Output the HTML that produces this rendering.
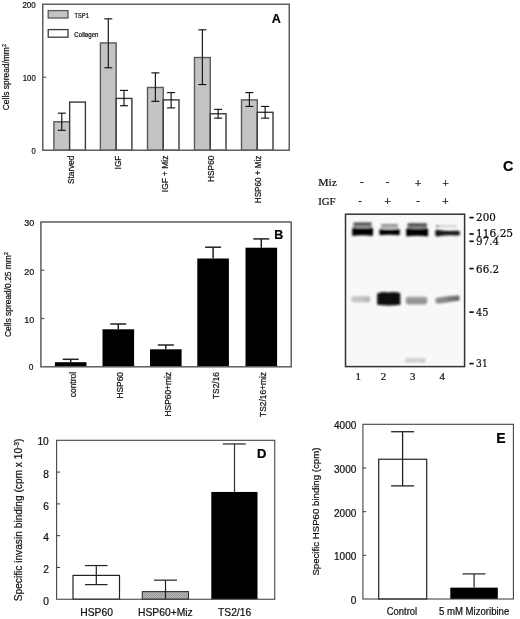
<!DOCTYPE html>
<html><head><meta charset="utf-8"><title>Figure</title>
<style>
html,body{margin:0;padding:0;background:#fff;}
body{width:520px;height:619px;overflow:hidden;}
svg{display:block;}
text{stroke:#111;stroke-width:0.22px;}
</style></head>
<body>
<svg width="520" height="619" viewBox="0 0 520 619">
<rect width="520" height="619" fill="#fff"/>
<rect x="53.9" y="121.78" width="15.75" height="28.47" fill="#c4c4c4" stroke="#5a5a5a" stroke-width="1.4"/>
<rect x="69.65" y="102.07" width="15.75" height="48.18000000000001" fill="#fff" stroke="#3a3a3a" stroke-width="1.4"/>
<line x1="61.775" y1="113.166" x2="61.775" y2="130.321" stroke="#111" stroke-width="1.15"/>
<line x1="57.775" y1="113.166" x2="65.775" y2="113.166" stroke="#111" stroke-width="1.15"/>
<line x1="57.775" y1="130.321" x2="65.775" y2="130.321" stroke="#111" stroke-width="1.15"/>
<rect x="100.4" y="42.94" width="15.75" height="107.31" fill="#c4c4c4" stroke="#5a5a5a" stroke-width="1.4"/>
<rect x="116.15" y="98.42" width="15.75" height="51.83" fill="#fff" stroke="#3a3a3a" stroke-width="1.4"/>
<line x1="108.275" y1="18.849999999999994" x2="108.275" y2="67.76" stroke="#111" stroke-width="1.15"/>
<line x1="104.275" y1="18.849999999999994" x2="112.275" y2="18.849999999999994" stroke="#111" stroke-width="1.15"/>
<line x1="104.275" y1="67.76" x2="112.275" y2="67.76" stroke="#111" stroke-width="1.15"/>
<line x1="124.025" y1="90.39" x2="124.025" y2="105.72" stroke="#111" stroke-width="1.15"/>
<line x1="120.025" y1="90.39" x2="128.025" y2="90.39" stroke="#111" stroke-width="1.15"/>
<line x1="120.025" y1="105.72" x2="128.025" y2="105.72" stroke="#111" stroke-width="1.15"/>
<rect x="147.5" y="87.47" width="15.75" height="62.78" fill="#c4c4c4" stroke="#5a5a5a" stroke-width="1.4"/>
<rect x="163.25" y="99.88" width="15.75" height="50.370000000000005" fill="#fff" stroke="#3a3a3a" stroke-width="1.4"/>
<line x1="155.375" y1="72.87" x2="155.375" y2="101.34" stroke="#111" stroke-width="1.15"/>
<line x1="151.375" y1="72.87" x2="159.375" y2="72.87" stroke="#111" stroke-width="1.15"/>
<line x1="151.375" y1="101.34" x2="159.375" y2="101.34" stroke="#111" stroke-width="1.15"/>
<line x1="171.125" y1="92.58" x2="171.125" y2="107.91" stroke="#111" stroke-width="1.15"/>
<line x1="167.125" y1="92.58" x2="175.125" y2="92.58" stroke="#111" stroke-width="1.15"/>
<line x1="167.125" y1="107.91" x2="175.125" y2="107.91" stroke="#111" stroke-width="1.15"/>
<rect x="194.5" y="57.540000000000006" width="15.75" height="92.71" fill="#c4c4c4" stroke="#5a5a5a" stroke-width="1.4"/>
<rect x="210.25" y="113.75" width="15.75" height="36.5" fill="#fff" stroke="#3a3a3a" stroke-width="1.4"/>
<line x1="202.375" y1="29.799999999999997" x2="202.375" y2="84.55" stroke="#111" stroke-width="1.15"/>
<line x1="198.375" y1="29.799999999999997" x2="206.375" y2="29.799999999999997" stroke="#111" stroke-width="1.15"/>
<line x1="198.375" y1="84.55" x2="206.375" y2="84.55" stroke="#111" stroke-width="1.15"/>
<line x1="218.125" y1="109.37" x2="218.125" y2="118.13" stroke="#111" stroke-width="1.15"/>
<line x1="214.125" y1="109.37" x2="222.125" y2="109.37" stroke="#111" stroke-width="1.15"/>
<line x1="214.125" y1="118.13" x2="222.125" y2="118.13" stroke="#111" stroke-width="1.15"/>
<rect x="241.5" y="99.88" width="15.75" height="50.370000000000005" fill="#c4c4c4" stroke="#5a5a5a" stroke-width="1.4"/>
<rect x="257.25" y="112.28999999999999" width="15.75" height="37.96000000000001" fill="#fff" stroke="#3a3a3a" stroke-width="1.4"/>
<line x1="249.375" y1="92.58" x2="249.375" y2="106.45" stroke="#111" stroke-width="1.15"/>
<line x1="245.375" y1="92.58" x2="253.375" y2="92.58" stroke="#111" stroke-width="1.15"/>
<line x1="245.375" y1="106.45" x2="253.375" y2="106.45" stroke="#111" stroke-width="1.15"/>
<line x1="265.125" y1="106.45" x2="265.125" y2="118.13" stroke="#111" stroke-width="1.15"/>
<line x1="261.125" y1="106.45" x2="269.125" y2="106.45" stroke="#111" stroke-width="1.15"/>
<line x1="261.125" y1="118.13" x2="269.125" y2="118.13" stroke="#111" stroke-width="1.15"/>
<rect x="42.75" y="4.25" width="246.5" height="146.0" fill="none" stroke="#5e5e5e" stroke-width="1.5"/>
<line x1="42.75" y1="77.25" x2="46.25" y2="77.25" stroke="#5e5e5e" stroke-width="1.2"/>
<rect x="48.2" y="10.6" width="19.8" height="7.4" fill="#c4c4c4" stroke="#5a5a5a" stroke-width="1.3"/>
<rect x="48.2" y="29.6" width="19.8" height="7.6" fill="#fff" stroke="#3a3a3a" stroke-width="1.3"/>
<text x="74.6" y="17.8" font-size="6.6" text-anchor="start" font-family="'Liberation Sans', Arial, Helvetica, sans-serif" fill="#111" textLength="14.2" lengthAdjust="spacingAndGlyphs">TSP1</text>
<text x="74.3" y="36.9" font-size="6.6" text-anchor="start" font-family="'Liberation Sans', Arial, Helvetica, sans-serif" fill="#111" textLength="24.2" lengthAdjust="spacingAndGlyphs">Collagen</text>
<text x="35.8" y="8.25" font-size="9.7" text-anchor="end" font-family="'Liberation Sans', Arial, Helvetica, sans-serif" fill="#111" textLength="13.4" lengthAdjust="spacingAndGlyphs">200</text>
<text x="35.8" y="81.25" font-size="9.7" text-anchor="end" font-family="'Liberation Sans', Arial, Helvetica, sans-serif" fill="#111" textLength="13.1" lengthAdjust="spacingAndGlyphs">100</text>
<text x="35.8" y="154.25" font-size="9.7" text-anchor="end" font-family="'Liberation Sans', Arial, Helvetica, sans-serif" fill="#111" textLength="4.2" lengthAdjust="spacingAndGlyphs">0</text>
<text x="9.0" y="77.2" font-size="9.0" text-anchor="middle" font-family="'Liberation Sans', Arial, Helvetica, sans-serif" fill="#111" textLength="66" lengthAdjust="spacingAndGlyphs" transform="rotate(-90 9.0 77.2)">Cells spread/mm<tspan font-size="5.6" dy="-3.2">2</tspan></text>
<text x="280.8" y="23.2" font-size="12.6" text-anchor="end" font-family="'Liberation Sans', Arial, Helvetica, sans-serif" fill="#000" font-weight="bold">A</text>
<text x="74.2" y="155.6" font-size="8.6" text-anchor="end" font-family="'Liberation Sans', Arial, Helvetica, sans-serif" fill="#111" textLength="28.3" lengthAdjust="spacingAndGlyphs" transform="rotate(-90 74.2 155.6)">Starved</text>
<text x="120.8" y="155.6" font-size="8.6" text-anchor="end" font-family="'Liberation Sans', Arial, Helvetica, sans-serif" fill="#111" textLength="13.8" lengthAdjust="spacingAndGlyphs" transform="rotate(-90 120.8 155.6)">IGF</text>
<text x="168.2" y="155.6" font-size="8.6" text-anchor="end" font-family="'Liberation Sans', Arial, Helvetica, sans-serif" fill="#111" textLength="36.6" lengthAdjust="spacingAndGlyphs" transform="rotate(-90 168.2 155.6)">IGF + Miz</text>
<text x="214.4" y="155.6" font-size="8.6" text-anchor="end" font-family="'Liberation Sans', Arial, Helvetica, sans-serif" fill="#111" textLength="26.4" lengthAdjust="spacingAndGlyphs" transform="rotate(-90 214.4 155.6)">HSP60</text>
<text x="261.1" y="155.6" font-size="8.6" text-anchor="end" font-family="'Liberation Sans', Arial, Helvetica, sans-serif" fill="#111" textLength="47.6" lengthAdjust="spacingAndGlyphs" transform="rotate(-90 261.1 155.6)">HSP60 + Miz</text>
<rect x="54.9" y="362.2" width="31.6" height="4.60" fill="#000"/>
<line x1="70.7" y1="359.3" x2="70.7" y2="362.2" stroke="#111" stroke-width="1.4"/>
<line x1="62.7" y1="359.3" x2="78.7" y2="359.3" stroke="#222" stroke-width="1.5"/>
<rect x="102.5" y="329.3" width="31.6" height="37.50" fill="#000"/>
<line x1="118.3" y1="324.0" x2="118.3" y2="329.3" stroke="#111" stroke-width="1.4"/>
<line x1="110.3" y1="324.0" x2="126.3" y2="324.0" stroke="#222" stroke-width="1.5"/>
<rect x="150.0" y="349.3" width="31.6" height="17.50" fill="#000"/>
<line x1="165.8" y1="345.0" x2="165.8" y2="349.3" stroke="#111" stroke-width="1.4"/>
<line x1="157.8" y1="345.0" x2="173.8" y2="345.0" stroke="#222" stroke-width="1.5"/>
<rect x="197.3" y="258.5" width="31.6" height="108.30" fill="#000"/>
<line x1="213.10000000000002" y1="247.2" x2="213.10000000000002" y2="258.5" stroke="#111" stroke-width="1.4"/>
<line x1="205.10000000000002" y1="247.2" x2="221.10000000000002" y2="247.2" stroke="#222" stroke-width="1.5"/>
<rect x="245.5" y="247.7" width="31.6" height="119.10" fill="#000"/>
<line x1="261.3" y1="238.9" x2="261.3" y2="247.7" stroke="#111" stroke-width="1.4"/>
<line x1="253.3" y1="238.9" x2="269.3" y2="238.9" stroke="#222" stroke-width="1.5"/>
<rect x="40.9" y="222.0" width="250.29999999999998" height="144.8" fill="none" stroke="#5e5e5e" stroke-width="1.5"/>
<line x1="40.9" y1="318.53333333333336" x2="44.4" y2="318.53333333333336" stroke="#5e5e5e" stroke-width="1.2"/>
<line x1="40.9" y1="270.26666666666665" x2="44.4" y2="270.26666666666665" stroke="#5e5e5e" stroke-width="1.2"/>
<text x="33.5" y="370.40000000000003" font-size="8.4" text-anchor="end" font-family="'Liberation Sans', Arial, Helvetica, sans-serif" fill="#111">0</text>
<text x="34.2" y="322.93333333333334" font-size="9" text-anchor="end" font-family="'Liberation Sans', Arial, Helvetica, sans-serif" fill="#111">10</text>
<text x="34.2" y="274.66666666666663" font-size="9" text-anchor="end" font-family="'Liberation Sans', Arial, Helvetica, sans-serif" fill="#111">20</text>
<text x="34.2" y="226.4" font-size="9" text-anchor="end" font-family="'Liberation Sans', Arial, Helvetica, sans-serif" fill="#111">30</text>
<text x="11.2" y="294.6" font-size="8.6" text-anchor="middle" font-family="'Liberation Sans', Arial, Helvetica, sans-serif" fill="#111" textLength="85" lengthAdjust="spacingAndGlyphs" transform="rotate(-90 11.2 294.6)">Cells spread/0.25 mm<tspan font-size="5.5" dy="-3">2</tspan></text>
<text x="283.3" y="239.3" font-size="12.4" text-anchor="end" font-family="'Liberation Sans', Arial, Helvetica, sans-serif" fill="#000" font-weight="bold">B</text>
<text x="75.6" y="372" font-size="8.4" text-anchor="end" font-family="'Liberation Sans', Arial, Helvetica, sans-serif" fill="#111" transform="rotate(-90 75.6 372)">control</text>
<text x="123.4" y="372" font-size="8.4" text-anchor="end" font-family="'Liberation Sans', Arial, Helvetica, sans-serif" fill="#111" transform="rotate(-90 123.4 372)">HSP60</text>
<text x="170.8" y="372" font-size="8.4" text-anchor="end" font-family="'Liberation Sans', Arial, Helvetica, sans-serif" fill="#111" transform="rotate(-90 170.8 372)">HSP60+miz</text>
<text x="218.5" y="372" font-size="8.4" text-anchor="end" font-family="'Liberation Sans', Arial, Helvetica, sans-serif" fill="#111" transform="rotate(-90 218.5 372)">TS2/16</text>
<text x="266.2" y="372" font-size="8.4" text-anchor="end" font-family="'Liberation Sans', Arial, Helvetica, sans-serif" fill="#111" transform="rotate(-90 266.2 372)">TS2/16+miz</text>
<defs>
<filter id="bl1" x="-20%" y="-100%" width="140%" height="300%"><feGaussianBlur stdDeviation="0.9 0.75"/></filter>
<filter id="bl2" x="-20%" y="-100%" width="140%" height="300%"><feGaussianBlur stdDeviation="1.1 1.0"/></filter>
<filter id="bl3" x="-20%" y="-50%" width="140%" height="200%"><feGaussianBlur stdDeviation="1.15 1.0"/></filter>
<linearGradient id="g1" x1="0" x2="1" y1="0" y2="0"><stop offset="0" stop-color="#c8c8c8"/><stop offset="0.6" stop-color="#c0c0c0"/><stop offset="1" stop-color="#b0b0b0"/></linearGradient>
<linearGradient id="g4" x1="0" x2="1" y1="0" y2="0"><stop offset="0" stop-color="#909090"/><stop offset="0.5" stop-color="#808080"/><stop offset="1" stop-color="#606060"/></linearGradient>
<linearGradient id="g3" x1="0" x2="0" y1="0" y2="1"><stop offset="0" stop-color="#b0b0b0"/><stop offset="0.5" stop-color="#909090"/><stop offset="1" stop-color="#989898"/></linearGradient>
<linearGradient id="gb" x1="0" x2="1" y1="0" y2="0"><stop offset="0" stop-color="#b8b8b8"/><stop offset="0.15" stop-color="#cfcfcf"/><stop offset="0.85" stop-color="#d0d0d0"/><stop offset="1" stop-color="#a8a8a8"/></linearGradient>
</defs>
<rect x="345.6" y="214.2" width="119" height="152.4" fill="#f8f8f8"/>
<g filter="url(#bl3)">
<rect x="353.4" y="225" width="18.2" height="3.8" fill="#a0a0a0"/>
<rect x="353.4" y="222.4" width="18.2" height="3.2" rx="1" fill="#444"/>
<path d="M352.2 228.3 Q352.6 226.8 356 227.9 Q362 228.5 369 227.9 Q372.8 226.8 373 228.5 L373 235 Q372.8 236.6 369 235.6 Q362 235 356 235.6 Q352.6 236.6 352.2 235 Z" fill="#000"/>
<rect x="381" y="226" width="17" height="3.2" fill="#c4c4c4"/>
<rect x="381" y="224.1" width="17" height="2.5" rx="1" fill="#8c8c8c"/>
<path d="M379.4 229.4 Q379.8 228.2 383 229.2 Q389.5 229.9 396 229.2 Q399.5 228.2 399.8 229.6 L399.8 234.6 Q399.5 235.9 396 235 Q389.5 234.4 383 235 Q379.8 235.9 379.4 234.6 Z" fill="#000"/>
<rect x="407.6" y="225.8" width="19.4" height="3.6" fill="#a0a0a0"/>
<rect x="407.6" y="223.2" width="19.4" height="3.2" rx="1" fill="#444"/>
<path d="M406.2 228.9 Q406.5 227.4 410 228.5 Q417 229.1 424 228.5 Q428 227.4 428.1 229 L428.1 235.6 Q428 237.1 424 236.1 Q417 235.6 410 236.1 Q406.5 237.1 406.2 235.6 Z" fill="#000"/>
<rect x="436.2" y="225.4" width="21" height="1.5" rx="0.7" fill="#c4c4c4"/>
<rect x="436" y="225" width="2.8" height="2.2" rx="1" fill="#808080"/>
<path d="M435.3 230.8 Q435.5 229.2 438.5 229.9 Q444 230.8 450 230.9 L456.5 230.8 Q460.1 230.3 460.1 233.2 Q460.1 236 456.5 235.4 L450 235.3 Q444 235.3 438.5 236.2 Q435.5 236.9 435.3 235 Z" fill="#141414"/>
</g>
<g filter="url(#bl3)">
<rect x="351.2" y="296.3" width="19" height="6" rx="2.5" fill="url(#g1)"/>
<path d="M377.2 293.4 Q383 291.4 388.5 292.4 Q394.5 291.4 400.2 293 L400.4 304.8 Q389 306.4 377.2 304.8 Z" fill="#080808"/>
<rect x="405.8" y="296.6" width="21.4" height="8" rx="3" fill="url(#g3)"/>
<path d="M435.6 298.6 Q436 297.4 440 297.2 Q450 295.6 458.8 295.6 Q460.2 298 459.4 300.6 Q450 302 440 303.4 Q436 304 435.6 302.6 Z" fill="url(#g4)"/>
</g>
<g filter="url(#bl2)">
<rect x="405.4" y="358.2" width="19.8" height="4.4" rx="1.5" fill="url(#gb)"/>
</g>
<rect x="345.5" y="214.2" width="119.1" height="152.4" fill="none" stroke="#333" stroke-width="1.5"/>
<text x="318.2" y="186.1" font-size="11.4" text-anchor="start" font-family="'Liberation Serif', 'DejaVu Serif', serif" fill="#111" textLength="18.6" lengthAdjust="spacingAndGlyphs">Miz</text>
<text x="318.2" y="204.5" font-size="11.4" text-anchor="start" font-family="'Liberation Serif', 'DejaVu Serif', serif" fill="#111" textLength="17.4" lengthAdjust="spacingAndGlyphs">IGF</text>
<text x="361.8" y="186" font-size="10.8" text-anchor="middle" font-family="'DejaVu Serif', 'Liberation Serif', serif" fill="#111">-</text>
<text x="387.5" y="186" font-size="10.8" text-anchor="middle" font-family="'DejaVu Serif', 'Liberation Serif', serif" fill="#111">-</text>
<text x="360.2" y="205" font-size="10.8" text-anchor="middle" font-family="'DejaVu Serif', 'Liberation Serif', serif" fill="#111">-</text>
<text x="418" y="205" font-size="10.8" text-anchor="middle" font-family="'DejaVu Serif', 'Liberation Serif', serif" fill="#111">-</text>
<text x="418" y="186.2" font-size="8.6" text-anchor="middle" font-family="'DejaVu Serif', 'Liberation Serif', serif" fill="#111">+</text>
<text x="445.7" y="186.2" font-size="8.6" text-anchor="middle" font-family="'DejaVu Serif', 'Liberation Serif', serif" fill="#111">+</text>
<text x="387.5" y="204.4" font-size="8.6" text-anchor="middle" font-family="'DejaVu Serif', 'Liberation Serif', serif" fill="#111">+</text>
<text x="445.3" y="204.4" font-size="8.6" text-anchor="middle" font-family="'DejaVu Serif', 'Liberation Serif', serif" fill="#111">+</text>
<line x1="469.4" y1="217.6" x2="473.7" y2="217.6" stroke="#111" stroke-width="1.7"/>
<text x="476.1" y="221.1" font-size="10.4" text-anchor="start" font-family="'DejaVu Serif', 'Liberation Serif', serif" fill="#111" textLength="19.7" lengthAdjust="spacingAndGlyphs">200</text>
<line x1="469.4" y1="234.0" x2="473.7" y2="234.0" stroke="#111" stroke-width="1.7"/>
<text x="476.1" y="236.5" font-size="10.4" text-anchor="start" font-family="'DejaVu Serif', 'Liberation Serif', serif" fill="#111" textLength="37.0" lengthAdjust="spacingAndGlyphs">116.25</text>
<line x1="469.4" y1="241.3" x2="473.7" y2="241.3" stroke="#111" stroke-width="1.7"/>
<text x="476.1" y="245.4" font-size="10.4" text-anchor="start" font-family="'DejaVu Serif', 'Liberation Serif', serif" fill="#111" textLength="23.1" lengthAdjust="spacingAndGlyphs">97.4</text>
<line x1="469.4" y1="268.6" x2="473.7" y2="268.6" stroke="#111" stroke-width="1.7"/>
<text x="476.1" y="272.7" font-size="10.4" text-anchor="start" font-family="'DejaVu Serif', 'Liberation Serif', serif" fill="#111" textLength="23.1" lengthAdjust="spacingAndGlyphs">66.2</text>
<line x1="469.4" y1="312.1" x2="473.7" y2="312.1" stroke="#111" stroke-width="1.7"/>
<text x="476.1" y="316.1" font-size="10.4" text-anchor="start" font-family="'DejaVu Serif', 'Liberation Serif', serif" fill="#111" textLength="12.5" lengthAdjust="spacingAndGlyphs">45</text>
<line x1="469.4" y1="363.6" x2="473.7" y2="363.6" stroke="#111" stroke-width="1.7"/>
<text x="476.1" y="367.3" font-size="10.4" text-anchor="start" font-family="'DejaVu Serif', 'Liberation Serif', serif" fill="#111" textLength="11.6" lengthAdjust="spacingAndGlyphs">31</text>
<text x="358.1" y="380.2" font-size="10.8" text-anchor="middle" font-family="'Liberation Serif', 'DejaVu Serif', serif" fill="#111">1</text>
<text x="383.4" y="380.2" font-size="10.8" text-anchor="middle" font-family="'Liberation Serif', 'DejaVu Serif', serif" fill="#111">2</text>
<text x="412.7" y="380.2" font-size="10.8" text-anchor="middle" font-family="'Liberation Serif', 'DejaVu Serif', serif" fill="#111">3</text>
<text x="442.3" y="380.2" font-size="10.8" text-anchor="middle" font-family="'Liberation Serif', 'DejaVu Serif', serif" fill="#111">4</text>
<text x="513.5" y="170.7" font-size="14.4" text-anchor="end" font-family="'Liberation Sans', Arial, Helvetica, sans-serif" fill="#000" font-weight="bold">C</text>
<rect x="73" y="575.4075" width="46.5" height="23.842499999999973" fill="#fff" stroke="#222" stroke-width="1.2"/>
<line x1="96.3" y1="565.5526" x2="96.3" y2="584.6266" stroke="#222" stroke-width="1.2"/>
<line x1="85.05" y1="565.5526" x2="107.55" y2="565.5526" stroke="#222" stroke-width="1.2"/>
<line x1="85.05" y1="584.6266" x2="107.55" y2="584.6266" stroke="#222" stroke-width="1.2"/>
<defs><pattern id="dots" width="2" height="2" patternUnits="userSpaceOnUse"><rect width="2" height="2" fill="#b2b2b2"/><rect width="1" height="1" fill="#9a9a9a"/><rect x="1" y="1" width="1" height="1" fill="#a0a0a0"/></pattern></defs>
<rect x="142.3" y="591.6025" width="46.2" height="7.647499999999991" fill="url(#dots)" stroke="#333" stroke-width="1.1"/>
<line x1="165.5" y1="580.176" x2="165.5" y2="599.25" stroke="#222" stroke-width="1.2"/>
<line x1="154" y1="580.176" x2="177" y2="580.176" stroke="#222" stroke-width="1.2"/>
<rect x="211.3" y="491.96" width="46.2" height="107.29" fill="#000"/>
<line x1="234.5" y1="443.95585" x2="234.5" y2="491.95875" stroke="#333" stroke-width="1.2"/>
<line x1="222.8" y1="443.95585" x2="245.8" y2="443.95585" stroke="#333" stroke-width="1.3"/>
<rect x="56.6" y="440.3" width="218.15" height="158.95" fill="none" stroke="#444" stroke-width="1.1"/>
<line x1="56.6" y1="567.46" x2="60.1" y2="567.46" stroke="#444" stroke-width="1.1"/>
<line x1="56.6" y1="535.67" x2="60.1" y2="535.67" stroke="#444" stroke-width="1.1"/>
<line x1="56.6" y1="503.88" x2="60.1" y2="503.88" stroke="#444" stroke-width="1.1"/>
<line x1="56.6" y1="472.09000000000003" x2="60.1" y2="472.09000000000003" stroke="#444" stroke-width="1.1"/>
<text x="48.8" y="604.95" font-size="10.2" text-anchor="end" font-family="'Liberation Sans', Arial, Helvetica, sans-serif" fill="#111">0</text>
<text x="48.8" y="573.1600000000001" font-size="10.2" text-anchor="end" font-family="'Liberation Sans', Arial, Helvetica, sans-serif" fill="#111">2</text>
<text x="48.8" y="541.37" font-size="10.2" text-anchor="end" font-family="'Liberation Sans', Arial, Helvetica, sans-serif" fill="#111">4</text>
<text x="48.8" y="509.58" font-size="10.2" text-anchor="end" font-family="'Liberation Sans', Arial, Helvetica, sans-serif" fill="#111">6</text>
<text x="48.8" y="477.79" font-size="10.2" text-anchor="end" font-family="'Liberation Sans', Arial, Helvetica, sans-serif" fill="#111">8</text>
<text x="48.8" y="445.2" font-size="10.2" text-anchor="end" font-family="'Liberation Sans', Arial, Helvetica, sans-serif" fill="#111">10</text>
<text x="22.2" y="520" font-size="10.2" text-anchor="middle" font-family="'Liberation Sans', Arial, Helvetica, sans-serif" fill="#111" transform="rotate(-90 22.2 520)">Specific invasin binding (cpm x 10<tspan font-size="6.5" dy="-3.5">-3</tspan><tspan dy="3.5">)</tspan></text>
<text x="266.3" y="458.4" font-size="13" text-anchor="end" font-family="'Liberation Sans', Arial, Helvetica, sans-serif" fill="#000" font-weight="bold">D</text>
<text x="96.6" y="615.6" font-size="10.3" text-anchor="middle" font-family="'Liberation Sans', Arial, Helvetica, sans-serif" fill="#111">HSP60</text>
<text x="165.4" y="615.6" font-size="10.3" text-anchor="middle" font-family="'Liberation Sans', Arial, Helvetica, sans-serif" fill="#111">HSP60+Miz</text>
<text x="234.6" y="615.6" font-size="10.3" text-anchor="middle" font-family="'Liberation Sans', Arial, Helvetica, sans-serif" fill="#111">TS2/16</text>
<rect x="378.7" y="459.24" width="48" height="139.76" fill="#fff" stroke="#222" stroke-width="1.2"/>
<line x1="402.6" y1="431.72475" x2="402.6" y2="485.88175" stroke="#222" stroke-width="1.3"/>
<line x1="391.1" y1="431.72475" x2="414.1" y2="431.72475" stroke="#222" stroke-width="1.3"/>
<line x1="391.1" y1="485.88175" x2="414.1" y2="485.88175" stroke="#222" stroke-width="1.3"/>
<rect x="450.3" y="587.64" width="47.5" height="11.36" fill="#000"/>
<line x1="474.1" y1="573.886875" x2="474.1" y2="587.6445" stroke="#333" stroke-width="1.3"/>
<line x1="462.5" y1="573.886875" x2="485.5" y2="573.886875" stroke="#333" stroke-width="1.3"/>
<rect x="362.9" y="424.3" width="150.5" height="174.7" fill="none" stroke="#444" stroke-width="1.1"/>
<line x1="362.9" y1="555.325" x2="366.09999999999997" y2="555.325" stroke="#444" stroke-width="1.1"/>
<line x1="362.9" y1="511.65" x2="366.09999999999997" y2="511.65" stroke="#444" stroke-width="1.1"/>
<line x1="362.9" y1="467.975" x2="366.09999999999997" y2="467.975" stroke="#444" stroke-width="1.1"/>
<text x="356.3" y="604.1" font-size="10" text-anchor="end" font-family="'Liberation Sans', Arial, Helvetica, sans-serif" fill="#111">0</text>
<text x="356.3" y="560.4250000000001" font-size="10" text-anchor="end" font-family="'Liberation Sans', Arial, Helvetica, sans-serif" fill="#111">1000</text>
<text x="356.3" y="516.75" font-size="10" text-anchor="end" font-family="'Liberation Sans', Arial, Helvetica, sans-serif" fill="#111">2000</text>
<text x="356.3" y="473.07500000000005" font-size="10" text-anchor="end" font-family="'Liberation Sans', Arial, Helvetica, sans-serif" fill="#111">3000</text>
<text x="356.3" y="429.40000000000003" font-size="10" text-anchor="end" font-family="'Liberation Sans', Arial, Helvetica, sans-serif" fill="#111">4000</text>
<text x="319.5" y="511.6" font-size="9.4" text-anchor="middle" font-family="'Liberation Sans', Arial, Helvetica, sans-serif" fill="#111" textLength="128" lengthAdjust="spacingAndGlyphs" transform="rotate(-90 319.5 511.6)">Specific HSP60 binding (cpm)</text>
<text x="505.6" y="443" font-size="14" text-anchor="end" font-family="'Liberation Sans', Arial, Helvetica, sans-serif" fill="#000" font-weight="bold">E</text>
<text x="402" y="615.2" font-size="10" text-anchor="middle" font-family="'Liberation Sans', Arial, Helvetica, sans-serif" fill="#111" textLength="30.4" lengthAdjust="spacingAndGlyphs">Control</text>
<text x="474.1" y="615.2" font-size="10" text-anchor="middle" font-family="'Liberation Sans', Arial, Helvetica, sans-serif" fill="#111" textLength="70.4" lengthAdjust="spacingAndGlyphs">5 mM Mizoribine</text>
</svg>
</body></html>
